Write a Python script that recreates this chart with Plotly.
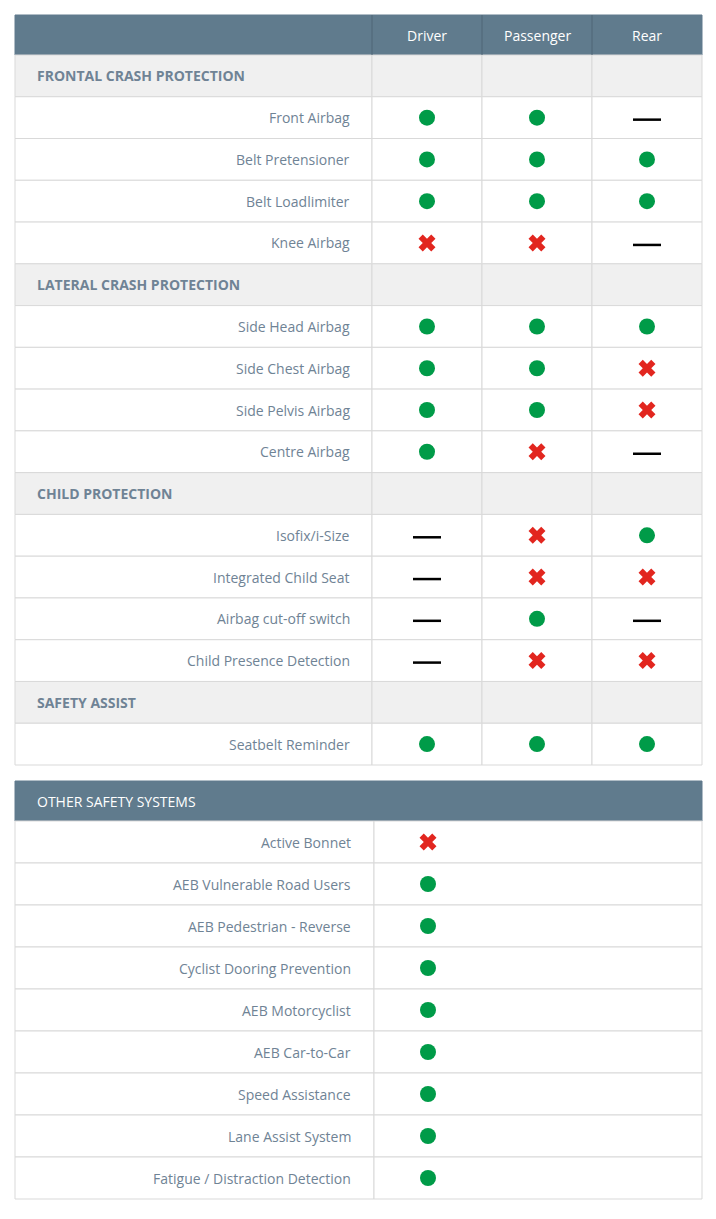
import plotly.graph_objects as go

W, H = 716, 1219

columns = ["Driver", "Passenger", "Rear"]

# rows of table 1: (label, is_section, status for driver/passenger/rear)
# status codes: Y = fitted (green dot), N = not fitted (red cross), - = not applicable
rows1 = [
    ("FRONTAL CRASH PROTECTION", True, None),
    ("Front Airbag", False, "YY-"),
    ("Belt Pretensioner", False, "YYY"),
    ("Belt Loadlimiter", False, "YYY"),
    ("Knee Airbag", False, "NN-"),
    ("LATERAL CRASH PROTECTION", True, None),
    ("Side Head Airbag", False, "YYY"),
    ("Side Chest Airbag", False, "YYN"),
    ("Side Pelvis Airbag", False, "YYN"),
    ("Centre Airbag", False, "YN-"),
    ("CHILD PROTECTION", True, None),
    ("Isofix/i-Size", False, "-NY"),
    ("Integrated Child Seat", False, "-NN"),
    ("Airbag cut-off switch", False, "-Y-"),
    ("Child Presence Detection", False, "-NN"),
    ("SAFETY ASSIST", True, None),
    ("Seatbelt Reminder", False, "YYY"),
]

other_title = "OTHER SAFETY SYSTEMS"
other_labels = ["Active Bonnet", "AEB Vulnerable Road Users", "AEB Pedestrian - Reverse",
                "Cyclist Dooring Prevention", "AEB Motorcyclist", "AEB Car-to-Car",
                "Speed Assistance", "Lane Assist System", "Fatigue / Distraction Detection"]
other_status = "NYYYYYYYY"

HEAD = "#607b8d"
TXT = "#6f8395"
GRID = "#d9d9d9"
GREEN = "#009b48"
RED = "#e2261f"
FS = 14

fig = go.Figure()
shapes = []
annotations = []

L, R = 15, 702
col_edges = [15, 372, 482, 592, 702]
t1_top, head_h = 15, 40
row_h = (765 - 55) / len(rows1)

def rect(x0, y0, x1, y1, fill, line=GRID):
    shapes.append(dict(type="rect", x0=x0, y0=y0, x1=x1, y1=y1, fillcolor=fill,
                       line=dict(color=line, width=1), layer="below"))

# table 1 header
rect(L, t1_top, R, t1_top + head_h, HEAD, HEAD)
for i, c in enumerate(columns):
    cx = (col_edges[i + 1] + col_edges[i + 2]) / 2
    annotations.append(dict(x=cx, y=t1_top + head_h / 2, text=c, showarrow=False,
                            font=dict(color="white", size=FS)))
    shapes.append(dict(type="line", x0=col_edges[i + 1], x1=col_edges[i + 1],
                       y0=t1_top, y1=t1_top + head_h, line=dict(color="#4e6676", width=1)))

sym = {"Y": ("circle", GREEN, 16), "N": ("x", RED, 15), "-": ("line-ew", "black", 20)}
pts = {k: ([], []) for k in sym}

y = t1_top + head_h
for label, section, status in rows1:
    y0, y1 = y, y + row_h
    ym = (y0 + y1) / 2
    fill = "#f0f0f0" if section else "white"
    for i in range(4):
        rect(col_edges[i], y0, col_edges[i + 1], y1, fill)
    if section:
        annotations.append(dict(x=35, y=ym, text="<b>" + label + "</b>", showarrow=False,
                                xanchor="left", font=dict(color=TXT, size=FS)))
    else:
        annotations.append(dict(x=352, y=ym, text=label, showarrow=False,
                                xanchor="right", font=dict(color=TXT, size=FS)))
        for i, s in enumerate(status):
            cx = (col_edges[i + 1] + col_edges[i + 2]) / 2
            pts[s][0].append(cx)
            pts[s][1].append(ym + (2 if s == "-" else 0))
    y = y1

# table 2
t2_top = 781
rect(L, t2_top, R, t2_top + head_h, HEAD, HEAD)
annotations.append(dict(x=35, y=t2_top + head_h / 2, text=other_title, showarrow=False,
                        xanchor="left", font=dict(color="white", size=FS)))
row2_h = 42
y = t2_top + head_h
for label, s in zip(other_labels, other_status):
    rect(L, y, 374, y + row2_h, "white")
    rect(374, y, R, y + row2_h, "white")
    ym = y + row2_h / 2
    annotations.append(dict(x=353, y=ym, text=label, showarrow=False,
                            xanchor="right", font=dict(color=TXT, size=FS)))
    pts[s][0].append(428)
    pts[s][1].append(ym)
    y += row2_h

for k, (xs, ys) in pts.items():
    symbol, color, size = sym[k]
    marker = dict(symbol=symbol, color=color, size=size,
                  line=dict(width=2.5 if k == "-" else 0, color=color))
    fig.add_trace(go.Scatter(x=xs, y=ys, mode="markers", marker=marker,
                             hoverinfo="skip", showlegend=False))

fig.update_layout(
    width=W, height=H, margin=dict(l=0, r=0, t=0, b=0),
    paper_bgcolor="white", plot_bgcolor="white",
    font=dict(family="Open Sans, Roboto, sans-serif"),
    shapes=shapes, annotations=annotations,
    xaxis=dict(range=[0, W], visible=False, fixedrange=True),
    yaxis=dict(range=[H, 0], visible=False, fixedrange=True),
)

fig.write_html("out.html", config={"displayModeBar": False},
               post_script="document.body.style.margin='0';document.body.style.overflow='hidden';")
